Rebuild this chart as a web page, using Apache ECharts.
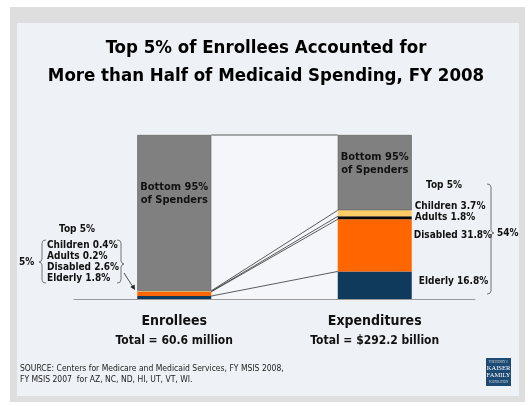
<!DOCTYPE html>
<html><head><meta charset="utf-8">
<script src="https://cdn.jsdelivr.net/npm/echarts@6/dist/echarts.min.js"></script>
<style>
html,body{margin:0;padding:0;background:#fff}
#frame{position:absolute;left:10px;top:7px;width:515px;height:395px;background:#dedede}
#panel{position:absolute;left:17px;top:23px;width:502px;height:373px;background:#eef1f5}
#c{position:absolute;left:0;top:0;width:532px;height:406px}
</style>
</head><body><div id="frame"></div><div id="panel"></div><div id="c"></div><script>
// ---- data ----
const categories = ['Enrollees', 'Expenditures'];
const totals = ['Total = 60.6 million', 'Total = $292.2 billion'];
const elderly = [1.8, 16.8];
const disabled = [2.6, 31.8];
const adults = [0.2, 1.8];
const children = [0.4, 3.7];
const bottom95 = [95, 45.9];
const topShare = [5, 54];
const bottomLabel = 'Bottom 95%\nof Spenders';
const titleText = 'Top 5% of Enrollees Accounted for\nMore than Half of Medicaid Spending, FY 2008';
const sourceLines = ['SOURCE: Centers for Medicare and Medicaid Services, FY MSIS 2008,',
                     'FY MSIS 2007  for AZ, NC, ND, HI, UT, VT, WI.'];

// ---- style ----
const FONT = "Tahoma, 'DejaVu Sans Condensed', 'DejaVu Sans', sans-serif";
const HALF = 37;
const layers = [
  {name:'Elderly', data:elderly, color:'#0f3a5c', dx:[4,-4], dist:3},
  {name:'Disabled', data:disabled, color:'#ff6600', dx:[0,-10], dist:2},
  {name:'Adults', data:adults, color:'#0a0a0a', dx:[0,0], dist:3},
  {name:'Children', data:children, color:'#ffcc66', dx:[0,-7], dist:3}
];
function cum(i, n) {
  const all = [elderly, disabled, adults, children, bottom95];
  let s = 0; for (let k = 0; k < n; k++) s += all[k][i]; return s;
}
const boundaries = [1,2,3,4,5].map(n => [0, cum(0,n), cum(1,n)]);

const txt = (x, y, text, size, align, extra) => ({
  type:'text', silent:true, z:100,
  style: Object.assign({x, y, text, fill:'#111', font:`bold ${size}px ${FONT}`,
    textAlign:align, align:align, textVerticalAlign:'middle', verticalAlign:'middle'}, extra || {})
});
// brace as a polyline; dir = -1 opens right ("{"), +1 opens left ("}")
function brace(x, y1, y2, ym, dir) {
  const w = 4 * dir;
  const pts = [[x - w, y1], [x - w*0.3, y1 + 0.6], [x, y1 + 3], [x, ym - 3], [x + w*0.25, ym - 0.8], [x + w*0.75, ym],
               [x + w*0.25, ym + 0.8], [x, ym + 3], [x, y2 - 3], [x - w*0.3, y2 - 0.6], [x - w, y2]];
  return {type:'polyline', silent:true, z:100, shape:{points:pts}, style:{stroke:'#555', fill:null, lineWidth:0.8}};
}

const series = layers.map(L => ({
  type:'bar', name:L.name, stack:'s', barWidth:74, z:2,
  itemStyle:{color:L.color},
  data: L.data.map((v, i) => ({
    value:v,
    label: i === 1 ? {show:true, position:'right', distance:L.dist, offset:L.dx,
      formatter: L.name + ' ' + v + '%', fontFamily:FONT, fontWeight:'bold', fontSize:10, color:'#111'} : {show:false}
  }))
}));
series.push({
  type:'bar', name:'Bottom 95%', stack:'s', barWidth:74, z:2,
  itemStyle:{color:'#808080', borderColor:'#555', borderWidth:0.6},
  label:{show:true, position:'inside', formatter:bottomLabel, fontFamily:FONT, fontWeight:'bold',
    fontSize:11, lineHeight:13, color:'#111'},
  data: bottom95.map((v, i) => ({value:v, label:{offset: i === 0 ? [0,-19] : [0,-9]}}))
});
series.push({
  type:'custom', silent:true, z:1, data:[boundaries[4]], encode:{x:0, y:[1,2]},
  renderItem(params, api) {
    const a = api.coord([0, api.value(1)]), b = api.coord([1, api.value(2)]);
    const a0 = api.coord([0, 0]), b0 = api.coord([1, 0]);
    return {type:'polygon', shape:{points:[[a[0]+HALF,a[1]],[b[0]-HALF,b[1]],[b0[0]-HALF,b0[1]],[a0[0]+HALF,a0[1]]]},
      style:{fill:'#f4f6f9'}};
  }
});
series.push({
  type:'custom', silent:true, z:3, data:boundaries, encode:{x:0, y:[1,2]},
  renderItem(params, api) {
    const a = api.coord([0, api.value(1)]), b = api.coord([1, api.value(2)]);
    return {type:'line', shape:{x1:a[0]+HALF, y1:a[1], x2:b[0]-HALF, y2:b[1]},
      style:{stroke:'#333', lineWidth:0.8}};
  }
});

const leftList = [...layers].reverse().map(L => L.name + ' ' + L.data[0] + '%');
const graphics = [
  txt(77, 229, 'Top 5%', 10, 'center'),
  ...leftList.map((t, k) => txt(47, 245 + k*11, t, 10, 'left')),
  txt(19, 262, topShare[0] + '%', 10, 'left'),
  brace(42, 240, 283, 262, -1),
  brace(121, 240, 283, 264, 1),
  {type:'line', silent:true, z:100, shape:{x1:124, y1:273, x2:133, y2:287}, style:{stroke:'#222', lineWidth:0.8}},
  {type:'polygon', silent:true, z:100, shape:{points:[[135,290],[134.6,284.4],[130.3,287.0]]}, style:{fill:'#222'}},
  txt(444, 185, 'Top 5%', 10, 'center'),
  brace(491, 184, 294, 233, 1),
  txt(497, 233, topShare[1] + '%', 10, 'left'),
  ...sourceLines.map((t, k) => txt(20, 369 + k*10.5, t, 8.5, 'left', {font:`8.5px ${FONT}`, fill:'#222'})),
  {type:'rect', silent:true, z:100, shape:{x:486, y:358, width:25, height:28}, style:{fill:'#1d4a72'}},
  txt(498.5, 362, 'THE HENRY J.', 3, 'center', {fill:'#cfd9e4', font:`3px 'Liberation Serif', serif`}),
  txt(498.5, 368, 'KAISER', 6.5, 'center', {fill:'#ffffff', font:`6.5px 'Liberation Serif', serif`}),
  txt(498.5, 375, 'FAMILY', 6.5, 'center', {fill:'#ffffff', font:`6.5px 'Liberation Serif', serif`}),
  txt(498.5, 382, 'FOUNDATION', 3, 'center', {fill:'#cfd9e4', font:`3px 'Liberation Serif', serif`})
];

const chart = echarts.init(document.getElementById('c'));
chart.setOption({
  animation:false,
  backgroundColor:'transparent',
  title:{text:titleText, left:'center', top:29,
    textStyle:{fontSize:18.5, fontWeight:'bold', fontFamily:FONT, color:'#000', lineHeight:28}},
  grid:{left:74, right:57, top:135, bottom:107, containLabel:false},
  xAxis:{type:'category', data:categories,
    axisLine:{lineStyle:{color:'#9a9a9a', width:1}}, axisTick:{show:false},
    axisLabel:{interval:0, margin:12,
      formatter:(v, i) => `{a|${v}}\n{b|${totals[i]}}`,
      rich:{a:{fontSize:14, fontWeight:'bold', fontFamily:FONT, color:'#111', lineHeight:20},
            b:{fontSize:12, fontWeight:'bold', fontFamily:FONT, color:'#111', lineHeight:19}}}},
  yAxis:{type:'value', min:0, max:100, show:false},
  series,
  graphic:graphics
});
</script></body></html>
